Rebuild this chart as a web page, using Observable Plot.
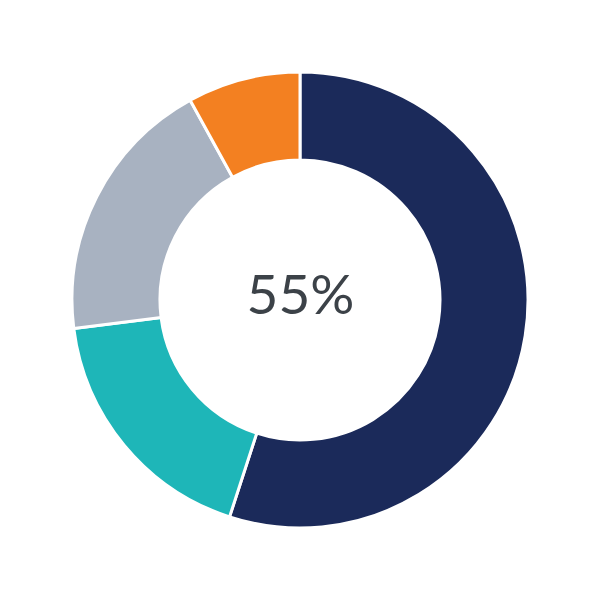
<!DOCTYPE html>
<html><head><meta charset="utf-8">
<script src="https://cdn.jsdelivr.net/npm/d3@7"></script>
<script src="https://cdn.jsdelivr.net/npm/@observablehq/plot@0.6"></script>
<style>body{margin:0;background:#fff;} svg{display:block;}</style>
</head><body><div id="chart"></div>
<script>
const categories = ["A", "B", "C", "D"];
const values = [55, 18, 19, 8];
const colors = ["#1b2a5a", "#1eb6b8", "#a8b2c1", "#f38021"];
const centerLabel = "55%";

const slices = categories.map((c, i) => ({category: c, value: values[i], color: colors[i]}));
const innerRatio = 140 / 228;

function donut(index, scales, vals, dims) {
  const sx = scales && scales.x, sy = scales && scales.y;
  const cx = sx ? sx(0) : dims.width / 2, cy = sy ? sy(0) : dims.height / 2;
  const R = sx ? sx(1) - sx(0) : 228;
  const pie = d3.pie().sort(null).startAngle(0).value(d => d.value)(slices);
  const arc = d3.arc().outerRadius(R).innerRadius(R * innerRatio);
  const g = d3.create("svg:g").attr("transform", `translate(${cx},${cy})`);
  g.selectAll("path").data(pie).join("path")
    .attr("d", arc)
    .attr("fill", d => d.data.color)
    .attr("stroke", "#fff")
    .attr("stroke-width", 3)
    .attr("stroke-linejoin", "round");
  return g.node();
}

const chart = Plot.plot({
  width: 600, height: 600,
  margin: 0,
  x: {domain: [-1, 1], range: [72, 528], axis: null},
  y: {domain: [-1, 1], range: [528, 72], axis: null},
  marks: [
    donut,
    Plot.text([centerLabel], {x: () => 0, y: () => 0, text: d => d, fontSize: 55, fill: "#3c4248", fontFamily: "Lato", textAnchor: "middle", lineAnchor: "middle", dy: -4})
  ]
});
document.getElementById("chart").append(chart);
</script></body></html>
